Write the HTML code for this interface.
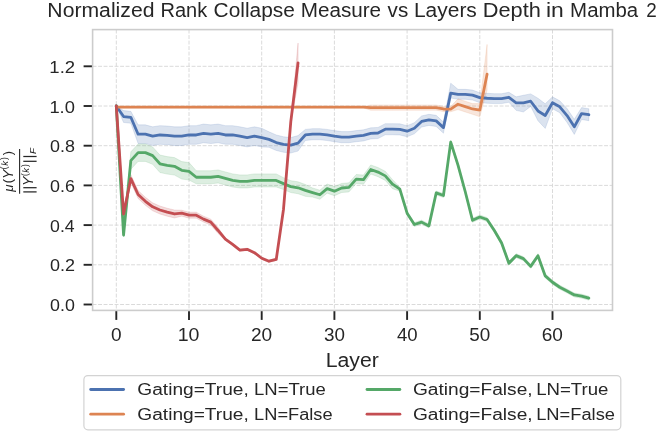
<!DOCTYPE html>
<html><head><meta charset="utf-8"><style>
html,body{margin:0;padding:0;background:#fff;}
body{width:660px;height:435px;overflow:hidden;}
svg{display:block;will-change:transform;}
text{font-family:"Liberation Sans",sans-serif;fill:#262626;}
.tt{font-size:19px;}
.tl{font-size:16.3px;}
.lg{font-size:16.3px;}
.ml{font-family:"Liberation Serif",serif;}
.g{stroke:#dadada;stroke-width:1;stroke-dasharray:3.9 1.6;}
.ln{fill:none;stroke-width:2.8;stroke-linejoin:round;stroke-linecap:round;}
.tk{stroke:#262626;stroke-width:1.9;}
</style></head><body>
<svg width="660" height="435" viewBox="0 0 660 435">
<rect x="92.6" y="29.6" width="519.9" height="280.8" fill="#fff" stroke="none"/>
<line x1="116.30" y1="29.6" x2="116.30" y2="310.4" class="g"/>
<line x1="189.00" y1="29.6" x2="189.00" y2="310.4" class="g"/>
<line x1="261.70" y1="29.6" x2="261.70" y2="310.4" class="g"/>
<line x1="334.40" y1="29.6" x2="334.40" y2="310.4" class="g"/>
<line x1="407.10" y1="29.6" x2="407.10" y2="310.4" class="g"/>
<line x1="479.80" y1="29.6" x2="479.80" y2="310.4" class="g"/>
<line x1="552.50" y1="29.6" x2="552.50" y2="310.4" class="g"/>
<line x1="92.6" y1="304.50" x2="612.5" y2="304.50" class="g"/>
<line x1="92.6" y1="264.80" x2="612.5" y2="264.80" class="g"/>
<line x1="92.6" y1="225.10" x2="612.5" y2="225.10" class="g"/>
<line x1="92.6" y1="185.40" x2="612.5" y2="185.40" class="g"/>
<line x1="92.6" y1="145.70" x2="612.5" y2="145.70" class="g"/>
<line x1="92.6" y1="106.00" x2="612.5" y2="106.00" class="g"/>
<line x1="92.6" y1="66.30" x2="612.5" y2="66.30" class="g"/>
<path d="M116.30,106.00 L123.57,110.57 L130.84,111.36 L138.11,124.86 L145.38,124.86 L152.65,126.84 L159.92,125.65 L167.19,126.05 L174.46,126.84 L181.73,126.84 L189.00,125.65 L196.27,125.65 L203.54,124.06 L210.81,124.86 L218.08,124.06 L225.35,125.65 L232.62,125.65 L239.89,126.84 L247.16,128.23 L254.43,126.84 L261.70,128.23 L268.97,131.81 L276.24,134.98 L283.51,136.77 L290.78,137.56 L298.05,135.58 L305.32,129.42 L312.59,128.63 L319.86,128.63 L327.13,129.42 L334.40,130.61 L341.67,131.61 L348.94,131.61 L356.21,130.61 L363.48,129.82 L370.75,127.84 L378.02,127.44 L385.29,123.67 L392.56,123.67 L399.83,123.86 L407.10,125.65 L414.37,122.67 L421.64,115.92 L428.91,114.34 L436.18,115.33 L443.45,122.08 L450.72,83.17 L457.99,89.33 L465.26,89.33 L472.53,90.12 L479.80,92.70 L487.07,93.30 L494.34,93.69 L501.61,93.69 L508.88,92.30 L516.15,96.87 L523.42,95.28 L530.69,93.89 L537.96,98.26 L545.23,103.82 L552.50,96.87 L559.77,100.84 L567.04,108.58 L574.31,119.30 L581.58,107.59 L588.85,108.78 L588.85,120.69 L581.58,119.50 L574.31,134.39 L567.04,122.48 L559.77,112.75 L552.50,108.78 L545.23,128.43 L537.96,120.69 L530.69,106.40 L523.42,111.96 L516.15,110.37 L508.88,102.23 L501.61,103.62 L494.34,103.62 L487.07,103.22 L479.80,102.63 L472.53,100.04 L465.26,99.25 L457.99,99.25 L450.72,98.06 L443.45,133.19 L436.18,126.45 L428.91,125.45 L421.64,127.04 L414.37,133.79 L407.10,136.77 L399.83,134.98 L392.56,134.78 L385.29,134.78 L378.02,138.55 L370.75,138.95 L363.48,140.94 L356.21,141.73 L348.94,142.72 L341.67,142.72 L334.40,141.73 L327.13,140.54 L319.86,139.75 L312.59,139.75 L305.32,140.54 L298.05,151.06 L290.78,153.04 L283.51,152.25 L276.24,150.46 L268.97,147.29 L261.70,146.89 L254.43,145.50 L247.16,146.89 L239.89,145.50 L232.62,144.31 L225.35,144.31 L218.08,142.72 L210.81,143.52 L203.54,142.72 L196.27,144.31 L189.00,144.31 L181.73,145.50 L174.46,145.50 L167.19,144.71 L159.92,144.31 L152.65,145.50 L145.38,143.52 L138.11,143.52 L130.84,123.27 L123.57,122.48 L116.30,106.00 Z" fill="#4c72b0" fill-opacity="0.2" stroke="#4c72b0" stroke-opacity="0.2" stroke-width="0.8"/>
<path d="M116.30,106.40 L123.57,106.40 L130.84,106.40 L138.11,106.40 L145.38,106.40 L152.65,106.40 L159.92,106.40 L167.19,106.40 L174.46,106.40 L181.73,106.40 L189.00,106.40 L196.27,106.40 L203.54,106.40 L210.81,106.40 L218.08,106.40 L225.35,106.40 L232.62,106.40 L239.89,106.40 L247.16,106.40 L254.43,106.40 L261.70,106.40 L268.97,106.40 L276.24,106.40 L283.51,106.40 L290.78,106.40 L298.05,106.40 L305.32,106.40 L312.59,106.40 L319.86,106.40 L327.13,106.40 L334.40,106.40 L341.67,106.40 L348.94,106.40 L356.21,106.40 L363.48,106.40 L370.75,105.01 L378.02,105.01 L385.29,105.01 L392.56,105.01 L399.83,105.01 L407.10,105.01 L414.37,105.01 L421.64,105.01 L428.91,105.01 L436.18,105.01 L443.45,106.40 L450.72,106.60 L457.99,98.85 L465.26,101.24 L472.53,103.62 L479.80,103.62 L487.07,44.47 L487.07,90.12 L479.80,116.72 L472.53,114.34 L465.26,111.96 L457.99,109.57 L450.72,111.76 L443.45,111.56 L436.18,110.17 L428.91,110.17 L421.64,110.17 L414.37,110.17 L407.10,110.17 L399.83,110.17 L392.56,110.17 L385.29,110.17 L378.02,110.17 L370.75,110.17 L363.48,107.99 L356.21,107.99 L348.94,107.99 L341.67,107.99 L334.40,107.99 L327.13,107.99 L319.86,107.99 L312.59,107.99 L305.32,107.99 L298.05,107.99 L290.78,107.99 L283.51,107.99 L276.24,107.99 L268.97,107.99 L261.70,107.99 L254.43,107.99 L247.16,107.99 L239.89,107.99 L232.62,107.99 L225.35,107.99 L218.08,107.99 L210.81,107.99 L203.54,107.99 L196.27,107.99 L189.00,107.99 L181.73,107.99 L174.46,107.99 L167.19,107.99 L159.92,107.99 L152.65,107.99 L145.38,107.99 L138.11,107.99 L130.84,107.99 L123.57,107.99 L116.30,107.99 Z" fill="#dd8452" fill-opacity="0.2" stroke="#dd8452" stroke-opacity="0.2" stroke-width="0.8"/>
<path d="M116.30,106.00 L123.57,233.04 L130.84,151.85 L138.11,143.91 L145.38,143.91 L152.65,146.89 L159.92,155.03 L167.19,156.62 L174.46,157.61 L181.73,161.58 L189.00,162.57 L196.27,170.71 L203.54,170.71 L210.81,170.71 L218.08,169.92 L225.35,171.90 L232.62,173.89 L239.89,174.88 L247.16,174.88 L254.43,173.89 L261.70,173.89 L268.97,173.89 L276.24,173.89 L283.51,177.66 L290.78,180.64 L298.05,181.83 L305.32,184.41 L312.59,187.98 L319.86,190.16 L327.13,184.01 L334.40,186.59 L341.67,183.42 L348.94,182.82 L356.21,174.48 L363.48,175.08 L370.75,164.95 L378.02,167.53 L385.29,171.31 L392.56,179.64 L399.83,187.19 L407.10,211.20 L414.37,222.52 L421.64,220.14 L428.91,223.91 L436.18,190.96 L443.45,193.54 L450.72,140.14 L457.99,163.17 L465.26,189.77 L472.53,218.35 L479.80,214.98 L487.07,217.56 L494.34,228.47 L501.61,240.98 L508.88,261.23 L516.15,253.68 L523.42,256.66 L530.69,264.40 L537.96,253.68 L545.23,273.93 L552.50,280.28 L559.77,285.25 L567.04,289.02 L574.31,292.99 L581.58,294.18 L588.85,296.16 L588.85,300.13 L581.58,298.15 L574.31,296.96 L567.04,292.99 L559.77,289.22 L552.50,284.25 L545.23,277.90 L537.96,257.65 L530.69,268.37 L523.42,260.63 L516.15,257.65 L508.88,265.20 L501.61,244.95 L494.34,232.44 L487.07,221.53 L479.80,218.95 L472.53,222.32 L465.26,193.74 L457.99,167.14 L450.72,144.11 L443.45,197.51 L436.18,194.93 L428.91,227.88 L421.64,224.11 L414.37,226.49 L407.10,215.18 L399.83,191.16 L392.56,188.77 L385.29,180.44 L378.02,176.67 L370.75,174.09 L363.48,184.21 L356.21,183.61 L348.94,191.95 L341.67,192.55 L334.40,195.72 L327.13,193.14 L319.86,199.30 L312.59,197.11 L305.32,196.32 L298.05,193.74 L290.78,192.55 L283.51,189.57 L276.24,186.99 L268.97,186.99 L261.70,186.99 L254.43,186.99 L247.16,187.98 L239.89,187.98 L232.62,186.99 L225.35,185.00 L218.08,183.02 L210.81,183.81 L203.54,183.81 L196.27,183.81 L189.00,180.04 L181.73,179.05 L174.46,175.08 L167.19,174.09 L159.92,172.50 L152.65,164.36 L145.38,161.38 L138.11,161.38 L130.84,169.32 L123.57,237.01 L116.30,106.00 Z" fill="#55a868" fill-opacity="0.2" stroke="#55a868" stroke-opacity="0.2" stroke-width="0.8"/>
<path d="M116.30,106.00 L123.57,210.01 L130.84,174.68 L138.11,190.56 L145.38,197.31 L152.65,202.87 L159.92,206.04 L167.19,208.23 L174.46,210.01 L181.73,210.21 L189.00,212.20 L196.27,212.20 L203.54,216.17 L210.81,219.14 L218.08,227.48 L225.35,238.00 L232.62,243.16 L239.89,248.92 L247.16,248.13 L254.43,251.50 L261.70,257.06 L268.97,260.04 L276.24,258.25 L283.51,208.03 L290.78,120.69 L298.05,43.08 L298.05,82.78 L290.78,123.07 L283.51,210.41 L276.24,260.63 L268.97,262.42 L261.70,259.44 L254.43,253.88 L247.16,250.51 L239.89,251.30 L232.62,245.55 L225.35,240.38 L218.08,233.44 L210.81,225.10 L203.54,222.12 L196.27,218.15 L189.00,218.15 L181.73,216.17 L174.46,217.95 L167.19,216.17 L159.92,213.98 L152.65,210.81 L145.38,205.25 L138.11,198.50 L130.84,182.62 L123.57,217.95 L116.30,106.00 Z" fill="#c44e52" fill-opacity="0.2" stroke="#c44e52" stroke-opacity="0.2" stroke-width="0.8"/>
<path d="M116.30,106.00 L123.57,116.52 L130.84,117.31 L138.11,134.19 L145.38,134.19 L152.65,136.17 L159.92,134.98 L167.19,135.38 L174.46,136.17 L181.73,136.17 L189.00,134.98 L196.27,134.98 L203.54,133.39 L210.81,134.19 L218.08,133.39 L225.35,134.98 L232.62,134.98 L239.89,136.17 L247.16,137.56 L254.43,136.17 L261.70,137.56 L268.97,139.35 L276.24,142.52 L283.51,144.31 L290.78,145.10 L298.05,143.12 L305.32,134.98 L312.59,134.19 L319.86,134.19 L327.13,134.98 L334.40,136.17 L341.67,137.16 L348.94,137.16 L356.21,136.17 L363.48,135.38 L370.75,133.39 L378.02,133.00 L385.29,129.22 L392.56,129.22 L399.83,129.42 L407.10,131.21 L414.37,128.23 L421.64,121.48 L428.91,119.89 L436.18,120.89 L443.45,127.64 L450.72,93.10 L457.99,94.29 L465.26,94.29 L472.53,95.08 L479.80,97.66 L487.07,98.26 L494.34,98.66 L501.61,98.66 L508.88,97.27 L516.15,102.82 L523.42,102.82 L530.69,101.24 L537.96,110.96 L545.23,115.53 L552.50,102.82 L559.77,106.79 L567.04,115.53 L574.31,126.84 L581.58,113.54 L588.85,114.73" class="ln" stroke="#4c72b0"/>
<path d="M116.30,107.19 L123.57,107.19 L130.84,107.19 L138.11,107.19 L145.38,107.19 L152.65,107.19 L159.92,107.19 L167.19,107.19 L174.46,107.19 L181.73,107.19 L189.00,107.19 L196.27,107.19 L203.54,107.19 L210.81,107.19 L218.08,107.19 L225.35,107.19 L232.62,107.19 L239.89,107.19 L247.16,107.19 L254.43,107.19 L261.70,107.19 L268.97,107.19 L276.24,107.19 L283.51,107.19 L290.78,107.19 L298.05,107.19 L305.32,107.19 L312.59,107.19 L319.86,107.19 L327.13,107.19 L334.40,107.19 L341.67,107.19 L348.94,107.19 L356.21,107.19 L363.48,107.19 L370.75,107.59 L378.02,107.59 L385.29,107.59 L392.56,107.59 L399.83,107.59 L407.10,107.59 L414.37,107.59 L421.64,107.59 L428.91,107.59 L436.18,107.59 L443.45,108.98 L450.72,109.18 L457.99,104.21 L465.26,106.60 L472.53,108.98 L479.80,110.17 L487.07,74.24" class="ln" stroke="#dd8452"/>
<path d="M116.30,106.00 L123.57,235.03 L130.84,160.59 L138.11,152.65 L145.38,152.65 L152.65,155.62 L159.92,163.76 L167.19,165.35 L174.46,166.34 L181.73,170.31 L189.00,171.31 L196.27,177.26 L203.54,177.26 L210.81,177.26 L218.08,176.47 L225.35,178.45 L232.62,180.44 L239.89,181.43 L247.16,181.43 L254.43,180.44 L261.70,180.44 L268.97,180.44 L276.24,180.44 L283.51,183.61 L290.78,186.59 L298.05,187.78 L305.32,190.36 L312.59,192.55 L319.86,194.73 L327.13,188.58 L334.40,191.16 L341.67,187.98 L348.94,187.38 L356.21,179.05 L363.48,179.64 L370.75,169.52 L378.02,172.10 L385.29,175.87 L392.56,184.21 L399.83,189.17 L407.10,213.19 L414.37,224.50 L421.64,222.12 L428.91,225.89 L436.18,192.94 L443.45,195.52 L450.72,142.13 L457.99,165.15 L465.26,191.75 L472.53,220.34 L479.80,216.96 L487.07,219.54 L494.34,230.46 L501.61,242.97 L508.88,263.21 L516.15,255.67 L523.42,258.65 L530.69,266.39 L537.96,255.67 L545.23,275.92 L552.50,282.27 L559.77,287.23 L567.04,291.00 L574.31,294.97 L581.58,296.16 L588.85,298.15" class="ln" stroke="#55a868"/>
<path d="M116.30,106.00 L123.57,213.98 L130.84,178.65 L138.11,194.53 L145.38,201.28 L152.65,206.84 L159.92,210.01 L167.19,212.20 L174.46,213.98 L181.73,213.19 L189.00,215.18 L196.27,215.18 L203.54,219.14 L210.81,222.12 L218.08,230.46 L225.35,239.19 L232.62,244.35 L239.89,250.11 L247.16,249.32 L254.43,252.69 L261.70,258.25 L268.97,261.23 L276.24,259.44 L283.51,209.22 L290.78,121.88 L298.05,62.93" class="ln" stroke="#c44e52"/>
<rect x="92.6" y="29.6" width="519.9" height="280.8" fill="none" stroke="#cccccc" stroke-width="1.6"/>
<line x1="116.30" y1="311.2" x2="116.30" y2="319.9" class="tk"/>
<line x1="189.00" y1="311.2" x2="189.00" y2="319.9" class="tk"/>
<line x1="261.70" y1="311.2" x2="261.70" y2="319.9" class="tk"/>
<line x1="334.40" y1="311.2" x2="334.40" y2="319.9" class="tk"/>
<line x1="407.10" y1="311.2" x2="407.10" y2="319.9" class="tk"/>
<line x1="479.80" y1="311.2" x2="479.80" y2="319.9" class="tk"/>
<line x1="552.50" y1="311.2" x2="552.50" y2="319.9" class="tk"/>
<line x1="83.6" y1="304.50" x2="91.9" y2="304.50" class="tk"/>
<line x1="83.6" y1="264.80" x2="91.9" y2="264.80" class="tk"/>
<line x1="83.6" y1="225.10" x2="91.9" y2="225.10" class="tk"/>
<line x1="83.6" y1="185.40" x2="91.9" y2="185.40" class="tk"/>
<line x1="83.6" y1="145.70" x2="91.9" y2="145.70" class="tk"/>
<line x1="83.6" y1="106.00" x2="91.9" y2="106.00" class="tk"/>
<line x1="83.6" y1="66.30" x2="91.9" y2="66.30" class="tk"/>
<text x="111.01" y="340.80" font-size="17.44" textLength="10.59" lengthAdjust="spacingAndGlyphs">0</text>
<text x="177.76" y="340.80" font-size="17.44" textLength="21.75" lengthAdjust="spacingAndGlyphs">10</text>
<text x="250.99" y="340.80" font-size="17.44" textLength="21.20" lengthAdjust="spacingAndGlyphs">20</text>
<text x="323.93" y="340.80" font-size="17.44" textLength="20.95" lengthAdjust="spacingAndGlyphs">30</text>
<text x="396.92" y="340.80" font-size="17.44" textLength="20.65" lengthAdjust="spacingAndGlyphs">40</text>
<text x="469.29" y="340.80" font-size="17.44" textLength="20.99" lengthAdjust="spacingAndGlyphs">50</text>
<text x="541.78" y="340.80" font-size="17.44" textLength="21.21" lengthAdjust="spacingAndGlyphs">60</text>
<text x="50.10" y="311.10" font-size="17.01" textLength="24.79" lengthAdjust="spacingAndGlyphs">0.0</text>
<text x="50.10" y="271.40" font-size="17.01" textLength="25.01" lengthAdjust="spacingAndGlyphs">0.2</text>
<text x="50.11" y="231.70" font-size="17.01" textLength="24.61" lengthAdjust="spacingAndGlyphs">0.4</text>
<text x="50.10" y="192.00" font-size="17.01" textLength="24.89" lengthAdjust="spacingAndGlyphs">0.6</text>
<text x="50.10" y="152.30" font-size="17.01" textLength="24.88" lengthAdjust="spacingAndGlyphs">0.8</text>
<text x="49.40" y="112.60" font-size="17.01" textLength="25.52" lengthAdjust="spacingAndGlyphs">1.0</text>
<text x="49.39" y="72.90" font-size="17.01" textLength="25.74" lengthAdjust="spacingAndGlyphs">1.2</text>
<text x="47.36" y="16.70" font-size="19.77" textLength="107.10" lengthAdjust="spacingAndGlyphs">Normalized</text>
<text x="160.56" y="16.70" font-size="19.77" textLength="46.71" lengthAdjust="spacingAndGlyphs">Rank</text>
<text x="213.64" y="16.70" font-size="19.77" textLength="81.29" lengthAdjust="spacingAndGlyphs">Collapse</text>
<text x="300.70" y="16.70" font-size="19.77" textLength="80.41" lengthAdjust="spacingAndGlyphs">Measure</text>
<text x="387.63" y="16.70" font-size="19.77" textLength="20.62" lengthAdjust="spacingAndGlyphs">vs</text>
<text x="413.98" y="16.70" font-size="19.77" textLength="62.88" lengthAdjust="spacingAndGlyphs">Layers</text>
<text x="482.71" y="16.70" font-size="19.77" textLength="58.10" lengthAdjust="spacingAndGlyphs">Depth</text>
<text x="545.97" y="16.70" font-size="19.77" textLength="17.82" lengthAdjust="spacingAndGlyphs">in</text>
<text x="570.13" y="16.70" font-size="19.77" textLength="68.07" lengthAdjust="spacingAndGlyphs">Mamba</text>
<text x="646.35" y="16.70" font-size="19.77" textLength="10.50" lengthAdjust="spacingAndGlyphs">2</text>
<text x="325.76" y="366.60" font-size="19.77" textLength="53.09" lengthAdjust="spacingAndGlyphs">Layer</text>
<g transform="translate(19.60,171.30) rotate(-90)"><line x1="-22.4" y1="0" x2="22.4" y2="0" stroke="#262626" stroke-width="1.1"/><text x="-20.42" y="-6.96" font-size="13.33" font-style="italic">μ</text><text x="-11.89" y="-7.62" font-size="12.67">(</text><text x="-7.65" y="-6.90" font-size="13.95" font-style="italic">Y</text><text x="2.18" y="-12.63" font-size="8.37">(</text><text x="5.64" y="-11.50" font-size="9.52" font-style="italic">k</text><text x="11.25" y="-12.63" font-size="8.37">)</text><text x="16.03" y="-7.62" font-size="12.67">)</text><line x1="-20.60" y1="3.7" x2="-20.60" y2="17.0" stroke="#262626" stroke-width="1.25"/><line x1="-16.40" y1="3.7" x2="-16.40" y2="17.0" stroke="#262626" stroke-width="1.25"/><line x1="10.00" y1="3.7" x2="10.00" y2="17.0" stroke="#262626" stroke-width="1.25"/><line x1="14.80" y1="3.7" x2="14.80" y2="17.0" stroke="#262626" stroke-width="1.25"/><text x="-14.75" y="13.90" font-size="13.95" font-style="italic">Y</text><text x="-4.82" y="8.17" font-size="8.37">(</text><text x="-1.36" y="9.30" font-size="9.52" font-style="italic">k</text><text x="4.25" y="8.17" font-size="8.37">)</text><text x="17.30" y="16.40" font-size="9.88" font-style="italic">F</text></g>
<rect x="83.9" y="375.6" width="536.9" height="54.2" rx="4" ry="4" fill="#fff" fill-opacity="0.8" stroke="#d3d3d3" stroke-width="1.2"/>
<line x1="90.7" y1="389.5" x2="123.6" y2="389.5" class="ln" stroke="#4c72b0"/>
<text x="137.34" y="395.20" font-size="17.30" textLength="111.46" lengthAdjust="spacingAndGlyphs">Gating=True,</text>
<text x="254.10" y="395.20" font-size="17.30" textLength="71.71" lengthAdjust="spacingAndGlyphs">LN=True</text>
<line x1="90.7" y1="414.2" x2="123.6" y2="414.2" class="ln" stroke="#dd8452"/>
<text x="137.34" y="419.70" font-size="17.30" textLength="111.46" lengthAdjust="spacingAndGlyphs">Gating=True,</text>
<text x="254.11" y="419.70" font-size="17.30" textLength="78.50" lengthAdjust="spacingAndGlyphs">LN=False</text>
<line x1="367.0" y1="389.5" x2="399.9" y2="389.5" class="ln" stroke="#55a868"/>
<text x="412.94" y="395.20" font-size="17.30" textLength="119.68" lengthAdjust="spacingAndGlyphs">Gating=False,</text>
<text x="536.19" y="395.20" font-size="17.30" textLength="72.23" lengthAdjust="spacingAndGlyphs">LN=True</text>
<line x1="367.0" y1="414.2" x2="399.9" y2="414.2" class="ln" stroke="#c44e52"/>
<text x="412.94" y="419.70" font-size="17.30" textLength="119.68" lengthAdjust="spacingAndGlyphs">Gating=False,</text>
<text x="536.20" y="419.70" font-size="17.30" textLength="78.81" lengthAdjust="spacingAndGlyphs">LN=False</text>
</svg>
</body></html>
